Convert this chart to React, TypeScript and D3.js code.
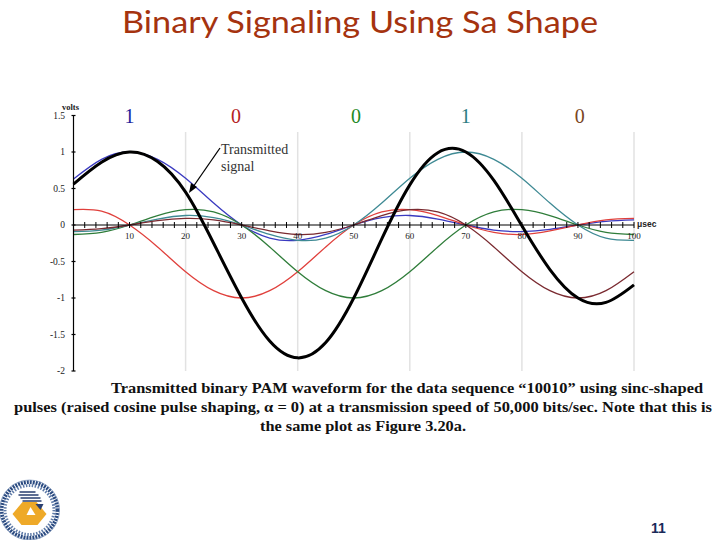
import React from "react";
import * as d3 from "d3";

const times = [0, 5, 10, 15, 20, 25, 30, 35, 40, 45, 50, 55, 60, 65, 70, 75, 80, 85, 90, 95, 100];

// values, every 5 usec
const pulse1 = [0.63, 0.9, 1, 0.9, 0.64, 0.3, 0, -0.18, -0.21, -0.13, 0, 0.1, 0.13, 0.08, 0, -0.07, -0.09, -0.06, 0, 0.05, 0.07];
const pulse2 = [0.21, 0.19, 0, -0.3, -0.64, -0.9, -1, -0.9, -0.64, -0.3, 0, 0.18, 0.21, 0.13, 0, -0.1, -0.13, -0.08, 0, 0.07, 0.09];
const pulse3 = [-0.13, -0.1, 0, 0.13, 0.21, 0.18, 0, -0.3, -0.64, -0.9, -1, -0.9, -0.64, -0.3, 0, 0.18, 0.21, 0.13, 0, -0.1, -0.13];
const pulse4 = [-0.09, -0.07, 0, 0.08, 0.13, 0.1, 0, -0.13, -0.21, -0.18, 0, 0.3, 0.64, 0.9, 1, 0.9, 0.64, 0.3, 0, -0.18, -0.21];
const pulse5 = [-0.07, -0.05, 0, 0.06, 0.09, 0.07, 0, -0.08, -0.13, -0.1, 0, 0.13, 0.21, 0.18, 0, -0.3, -0.64, -0.9, -1, -0.9, -0.64];
const transmitted = [0.56, 0.86, 1, 0.87, 0.45, -0.25, -1, -1.59, -1.82, -1.61, -1, -0.19, 0.55, 0.99, 1, 0.61, -0.01, -0.61, -1, -1.06, -0.82];

const pulseColors = ["#3a3ac0", "#e0403c", "#2f7d3a", "#3f8a94", "#7a2a30"];
const bits = ["1", "0", "0", "1", "0"];
const bitTimes = [10, 29, 50.4, 70, 90.3];
const bitColors = ["#1c1c9c", "#b52222", "#1f8a1f", "#2c7c82", "#7a4522"];

const yTicks = [1.5, 1, 0.5, 0, -0.5, -1, -1.5, -2];
const xLabels = [10, 20, 30, 40, 50, 60, 70, 80, 90, 100];
const gridTimes = [20, 40, 60, 80, 100];

const caption = [
  "Transmitted binary PAM waveform for the data sequence \u201c10010\u201d using sinc-shaped",
  "pulses (raised cosine pulse shaping, \u03b1 = 0) at a transmission speed of 50,000 bits/sec.  Note that this is",
  "the same plot as Figure 3.20a.",
];

const x = d3.scaleLinear().domain([0, 100]).range([73.5, 634]);
const y = d3.scaleLinear().domain([-2, 1.5]).range([371, 115.5]);

const line = d3
  .line<number>()
  .x((_, i) => x(times[i]))
  .y((d) => y(d))
  .curve(d3.curveNatural);

const serif = "'Liberation Serif', serif";

function Logo() {
  return (
    <g transform="translate(29.5,510)">
      <circle r={28} fill="none" stroke="#2a4a80" strokeWidth={4} strokeDasharray="2 1" />
      <circle r={24.5} fill="none" stroke="#5f7ba8" strokeWidth={3} strokeDasharray="1.5 1.5" />
      <circle r={30} fill="none" stroke="#8aa0c0" strokeWidth={0.8} />
      <path d="M-7,-8 L7,-8 L17,4 L8,15 L-8,15 L-17,4 Z" fill="#eea928" />
      <path d="M-3,5 L6,5 L1,-3 Z" fill="#ffffff" />
      <path d="M-10,-18 L6,-18 M-11,-15 L9,-15 M-9,-12 L11,-12 M-7,-9 L12,-9" stroke="#2a3f70" strokeWidth={1.7} />
      <path d="M6,-6 L14,-6 L11,0 Z" fill="#2a3f70" />
    </g>
  );
}

export default function App() {
  const pulses = [pulse1, pulse2, pulse3, pulse4, pulse5];
  return (
    <svg
      width={720}
      height={540}
      viewBox="0 0 720 540"
      style={{ position: "absolute", left: 0, top: 0, background: "#fff" }}
    >
      <text
        x={360}
        y={33}
        textAnchor="middle"
        fontFamily="Lato, sans-serif"
        fontSize={31}
        fill="#a5330f"
        textLength={476}
        lengthAdjust="spacingAndGlyphs"
      >
        Binary Signaling Using Sa Shape
      </text>

      {gridTimes.map((t) => (
        <line key={t} x1={x(t)} x2={x(t)} y1={132} y2={371} stroke="#e2e2e2" strokeWidth={1.5} />
      ))}

      {bits.map((b, i) => (
        <text
          key={i}
          x={x(bitTimes[i])}
          y={123}
          textAnchor="middle"
          fontFamily={serif}
          fontSize={20}
          fill={bitColors[i]}
        >
          {b}
        </text>
      ))}

      {pulses.map((p, i) => (
        <path key={i} d={line(p) ?? ""} fill="none" stroke={pulseColors[i]} strokeWidth={1.3} />
      ))}

      {/* axes */}
      <line x1={x(0)} x2={x(0)} y1={y(1.5)} y2={y(-2)} stroke="#000" strokeWidth={1.2} />
      <line x1={x(0)} x2={x(100)} y1={y(0)} y2={y(0)} stroke="#000" strokeWidth={1.2} />
      {yTicks.map((t) => (
        <g key={t}>
          <line x1={x(0) - 2} x2={x(0) + 2} y1={y(t)} y2={y(t)} stroke="#000" strokeWidth={1.2} />
          <text x={65} y={y(t) + 3} textAnchor="end" fontFamily={serif} fontSize={9.5} fill="#222">
            {t}
          </text>
        </g>
      ))}
      {d3.range(2, 101, 2).map((t) => (
        <line key={t} x1={x(t)} x2={x(t)} y1={y(0) - 3} y2={y(0) + 3} stroke="#000" strokeWidth={1} />
      ))}
      {xLabels.map((t) => (
        <text key={t} x={x(t)} y={239} textAnchor="middle" fontFamily={serif} fontSize={9} fill="#222">
          {t}
        </text>
      ))}
      <text x={62} y={110} fontFamily={serif} fontSize={8.5} fontWeight="bold" fill="#222">
        volts
      </text>
      <text x={637} y={227} fontFamily="'Liberation Sans', sans-serif" fontSize={8.5} fontWeight="bold" fill="#222">
        {"\u03bcsec"}
      </text>

      <path d={line(transmitted) ?? ""} fill="none" stroke="#000" strokeWidth={3} />

      {/* annotation */}
      <text fontFamily={serif} fontSize={14} fill="#333">
        <tspan x={221} y={154}>Transmitted</tspan>
        <tspan x={221} y={171}>signal</tspan>
      </text>
      <line x1={220} y1={148} x2={193} y2={187} stroke="#000" strokeWidth={1.3} />
      <path d="M189,193 L191,183 L197,187 Z" fill="#000" />

      <g fontFamily={serif} fontSize={14} fontWeight="bold" fill="#111">
        <text x={111} y={393} textLength={592} lengthAdjust="spacingAndGlyphs">{caption[0]}</text>
        <text x={14} y={412} textLength={698} lengthAdjust="spacingAndGlyphs">{caption[1]}</text>
        <text x={260} y={431} textLength={206} lengthAdjust="spacingAndGlyphs">{caption[2]}</text>
      </g>

      <Logo />

      <text x={651} y={533} fontFamily="'Liberation Sans', sans-serif" fontSize={14} fontWeight="bold" fill="#1a2a5a">
        11
      </text>
    </svg>
  );
}
